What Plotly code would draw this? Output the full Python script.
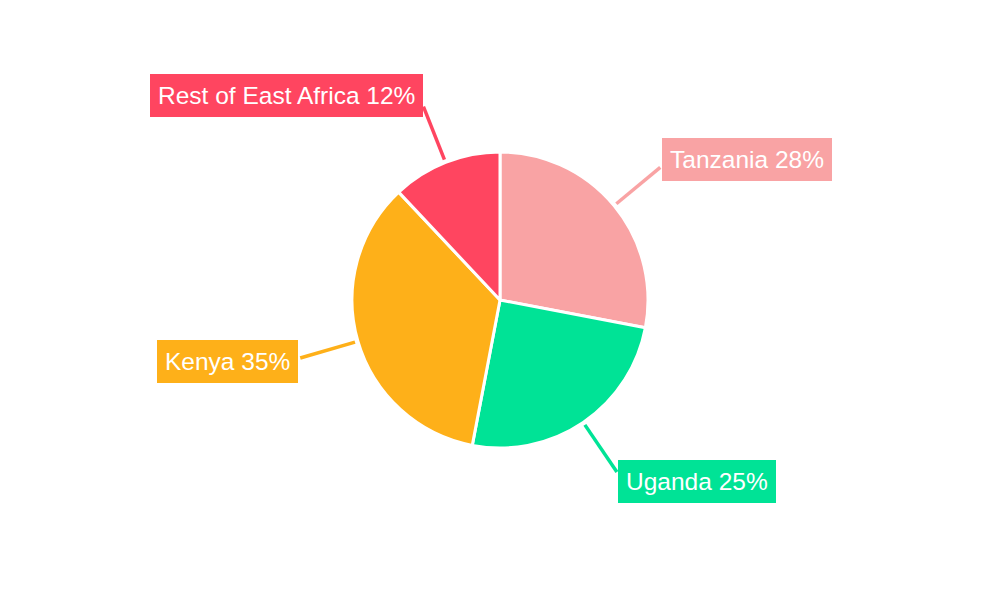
import math
import plotly.graph_objects as go

categories = ["Tanzania", "Uganda", "Kenya", "Rest of East Africa"]
values = [28, 25, 35, 12]
colors = ["#F9A3A4", "#00E396", "#FEB019", "#FF4560"]

W, H = 1000, 600
CX, CY, R = 500, 300, 148

fig = go.Figure(go.Pie(
    labels=categories, values=values, sort=False, direction="clockwise", rotation=0,
    marker=dict(colors=colors, line=dict(color="white", width=3)),
    textinfo="none", hoverinfo="label+percent", showlegend=False,
    domain=dict(x=[(CX - R) / W, (CX + R) / W], y=[1 - (CY + R) / H, 1 - (CY - R) / H]),
))

total = sum(values)
cum = 0
shapes, annotations = [], []
for cat, val, col in zip(categories, values, colors):
    mid = (cum + val / 2) / total * 2 * math.pi
    cum += val
    dx, dy = math.sin(mid), -math.cos(mid)
    r1, r2 = 151, 208
    rx3, ry3 = 210, 220
    x1, y1 = CX + r1 * dx, CY + r1 * dy
    x2, y2 = CX + r2 * dx, CY + r2 * dy
    x3, y3 = CX + rx3 * dx, CY + ry3 * dy
    shapes.append(dict(type="line", xref="paper", yref="paper",
                       x0=x1 / W, y0=1 - y1 / H, x1=x2 / W, y1=1 - y2 / H,
                       line=dict(color=col, width=3.5), layer="below"))
    pct = round(val / total * 100)
    annotations.append(dict(
        xref="paper", yref="paper", x=x3 / W, y=1 - y3 / H, showarrow=False,
        xanchor="left" if dx > 0 else "right", yanchor="middle",
        text=f"{cat} {pct}%", bgcolor=col, borderpad=8, borderwidth=0,
        font=dict(family="Liberation Sans, Arial, sans-serif", size=24.5, color="white"),
    ))

fig.update_layout(
    width=W, height=H, margin=dict(l=0, r=0, t=0, b=0),
    paper_bgcolor="white", plot_bgcolor="white",
    shapes=shapes, annotations=annotations,
)
fig.write_html("out.html", config={"displayModeBar": False},
               post_script="document.body.style.margin='0';")
